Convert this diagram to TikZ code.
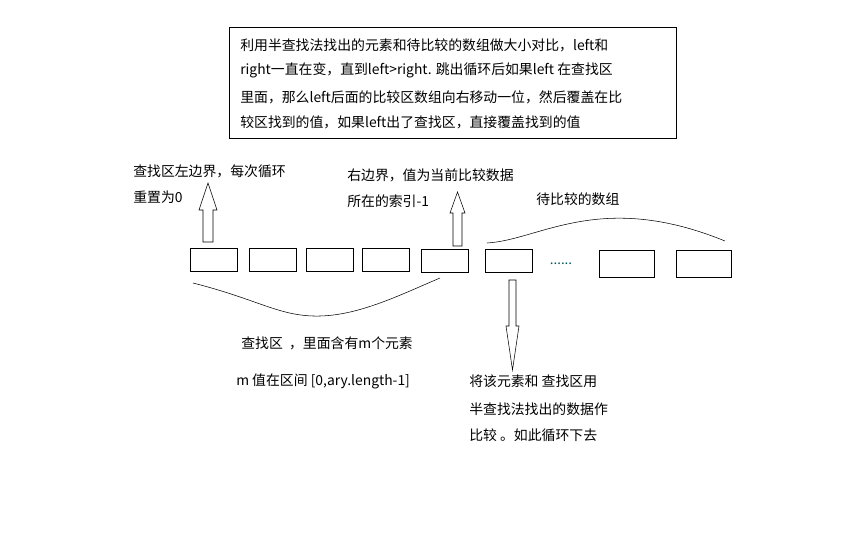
\documentclass[tikz,border=0pt]{standalone}
\usepackage{fontspec}
\setmainfont{Noto Sans CJK SC}
\begin{document}
\begin{tikzpicture}[x=0.75pt,y=-0.75pt,
  cell/.style={draw,thin,minimum width=35pt,minimum height=17pt,inner sep=0pt},
  lbl/.style={anchor=west,inner sep=0pt,font=\fontsize{10.4}{12}\selectfont},
  hollow/.style={draw,thin,fill=white}]
\useasboundingbox (0,0) rectangle (864,540);
\draw[thin] (229,27) rectangle (676,138);
\node[lbl] (t1) at (240,45) {利用半查找法找出的元素和待比较的数组做大小对比，left和};
\node[lbl] (t2) at (240,70) {right一直在变，直到left>right. 跳出循环后如果left 在查找区};
\node[lbl] (t3) at (240,97) {里面，那么left后面的比较区数组向右移动一位，然后覆盖在比};
\node[lbl] (t4) at (240,122) {较区找到的值，如果left出了查找区，直接覆盖找到的值};
\node[cell] (b1) at (213.5,260) {};
\node[cell] (b2) at (272.5,260) {};
\node[cell] (b3) at (329.5,260) {};
\node[cell] (b4) at (386,260) {};
\node[cell] (b5) at (444.5,260.5) {};
\node[cell] (b6) at (508.5,261) {};
\node[cell,minimum width=41pt,minimum height=20pt] (b7) at (627,263.5) {};
\node[cell,minimum width=41pt,minimum height=20pt] (b8) at (703.5,263.5) {};
\node[inner sep=0pt,text=teal!70!black] (dots) at (561,264) {......};
\draw[hollow] (203,242) -- (203,210) -- (199,210) -- (208,183) -- (217,210) -- (213,210) -- (213,242) -- cycle;
\draw[hollow] (453,246) -- (453,213) -- (450,213) -- (457.5,192) -- (465,213) -- (462,213) -- (462,246) -- cycle;
\draw[hollow] (509,280) -- (516,280) -- (516,326) -- (519,326) -- (512.5,370) -- (506,326) -- (509,326) -- cycle;
\draw[thin] (193,283) .. controls (260,300) and (280,317) .. (320,316) .. controls (360,315) and (400,295) .. (440,278);
\draw[thin] (487,243) .. controls (540,240) and (600,190) .. (725,241);
\node[lbl] (l1) at (133,171) {查找区左边界，每次循环};
\node[lbl] (l2) at (133,197) {重置为0};
\node[lbl] (r1) at (347,175) {右边界，值为当前比较数据};
\node[lbl] (r2) at (347,201) {所在的索引-1};
\node[lbl] (c1) at (536,199) {待比较的数组};
\node[lbl] (s1) at (241,343) {查找区 \ ，里面含有m个元素};
\node[lbl] (s2) at (236,381) {m 值在区间 [0,ary.length-1]};
\node[lbl] (d1) at (469,381) {将该元素和 查找区用};
\node[lbl] (d2) at (469,409) {半查找法找出的数据作};
\node[lbl] (d3) at (469,435) {比较 。如此循环下去};
\end{tikzpicture}
\end{document}
